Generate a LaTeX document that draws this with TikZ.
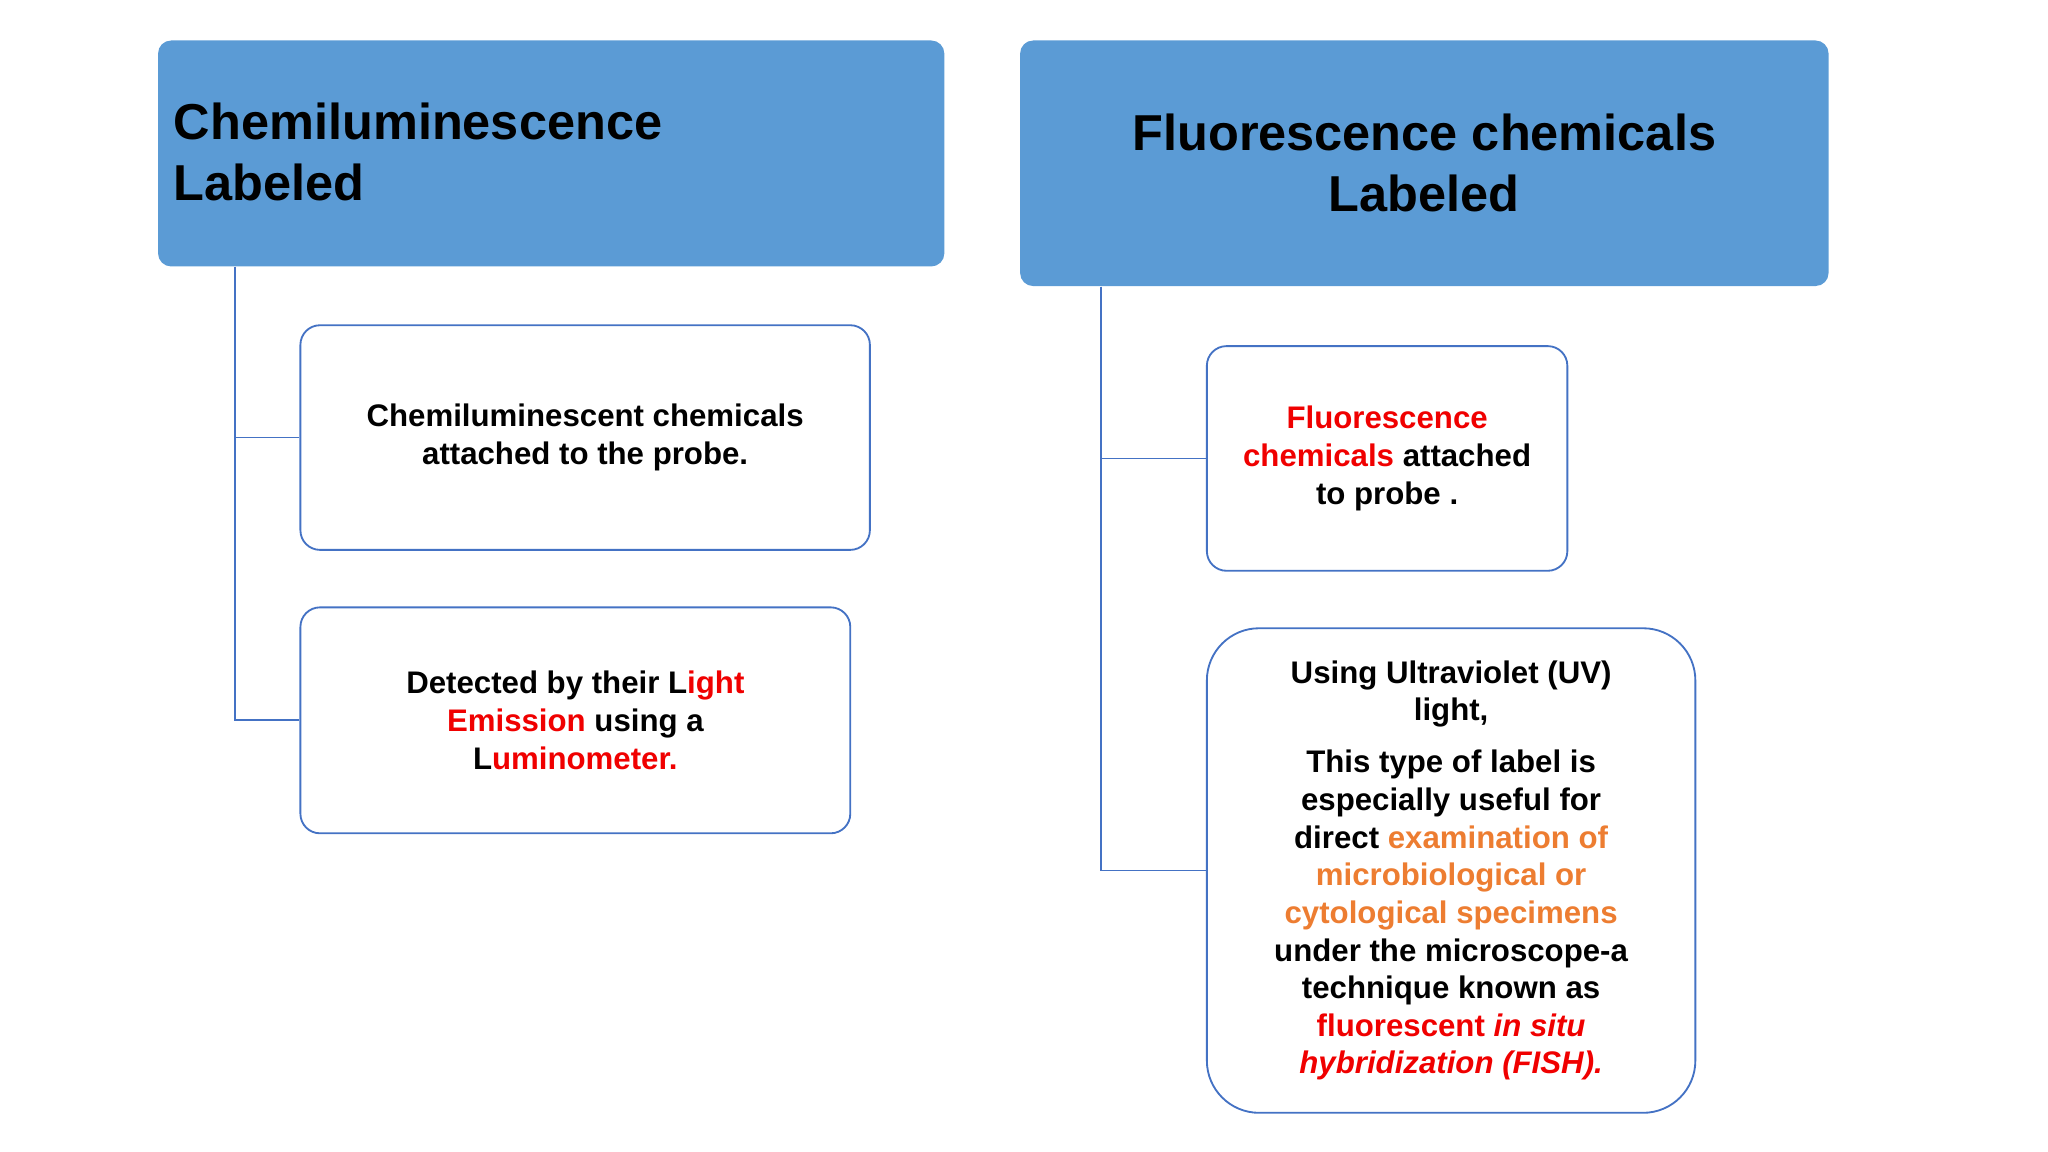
\documentclass[tikz,border=0pt]{standalone}
\usepackage{fontspec}
\setmainfont{Liberation Sans}
\definecolor{tfill}{RGB}{91,155,213}
\definecolor{bord}{RGB}{68,114,196}
\definecolor{lred}{RGB}{240,0,0}
\definecolor{lorange}{RGB}{237,125,49}
\begin{document}
\begin{tikzpicture}[x=0.02cm,y=-0.02cm,
  title/.style={fill=tfill,rounded corners=0.2cm,inner sep=0pt,font=\bfseries\fontsize{22}{26.6}\selectfont},
  box/.style={draw=bord,line width=0.8pt,fill=white,rounded corners=0.3cm,inner sep=0pt,align=center,font=\bfseries\fontsize{13.6}{16.4}\selectfont},
  conn/.style={draw=bord,line width=0.8pt}]
\useasboundingbox (0,0) rectangle (1568,882);
\node[title,minimum width=602*0.02cm,minimum height=173*0.02cm] (t1) at (422,117.5) {};
\node[anchor=west,align=left,font=\bfseries\fontsize{22}{26.6}\selectfont] (t1txt) at (127,116) {Chemiluminescence\\Labeled};
\node[title,minimum width=619*0.02cm,minimum height=188*0.02cm,align=center] (t2) at (1090.5,125) {Fluorescence chemicals\\Labeled};
\node[box,minimum width=436*0.02cm,minimum height=172*0.02cm] (a) at (448,335) {Chemiluminescent chemicals\\attached to the probe.};
\node[box,minimum width=421*0.02cm,minimum height=173*0.02cm] (b) at (440.5,551.5) {Detected by their L\textcolor{lred}{ight}\\\textcolor{lred}{Emission} using a\\L\textcolor{lred}{uminometer.}};
\node[box,minimum width=276*0.02cm,minimum height=172*0.02cm] (c) at (1062,351) {\textcolor{lred}{Fluorescence}\\\textcolor{lred}{chemicals} attached\\to probe .};
\node[box,rounded corners=0.8cm,minimum width=374*0.02cm,minimum height=371*0.02cm] (d) at (1111,666.5) {Using Ultraviolet (UV)\\light,\\[0.22cm]This type of label is\\especially useful for\\direct \textcolor{lorange}{examination of}\\\textcolor{lorange}{microbiological or}\\\textcolor{lorange}{cytological specimens}\\under the microscope-a\\technique known as\\\textcolor{lred}{fluorescent \textit{in situ}}\\\textcolor{lred}{\textit{hybridization (FISH).}}};
\draw[conn] ([xshift=1.18cm]t1.south west) |- (a.west);
\draw[conn] ([xshift=1.18cm]t1.south west) |- (b.west);
\draw[conn] ([xshift=1.24cm]t2.south west) |- (c.west);
\draw[conn] ([xshift=1.24cm]t2.south west) |- (d.west);
\end{tikzpicture}
\end{document}
